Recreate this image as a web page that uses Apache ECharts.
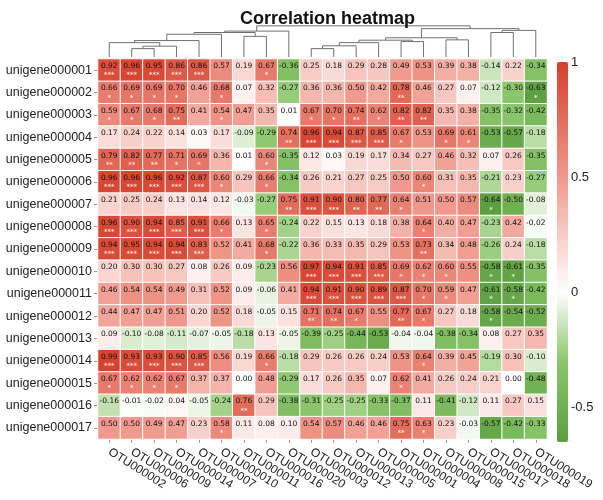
<!DOCTYPE html>
<html>
<head>
<meta charset="utf-8">
<title>Correlation heatmap</title>
<script src="https://cdn.jsdelivr.net/npm/echarts@6.0.0/dist/echarts.min.js"></script>
<style>
	html,body{margin:0;padding:0;background:#fff;}
	#main{width:603px;height:500px;}
</style>
</head>
<body>
<div id="main"></div>
<script>
	// column order follows the dendrogram
	var otus = ['OTU000002','OTU000006','OTU000009','OTU000014','OTU000007','OTU000010','OTU000011',
		'OTU000016','OTU000020','OTU000003','OTU000012','OTU000013','OTU000005','OTU000001',
		'OTU000004','OTU000008','OTU000015','OTU000017','OTU000018','OTU000019'];

	var genes = ['unigene000001','unigene000002','unigene000003','unigene000004','unigene000005',
		'unigene000006','unigene000007','unigene000008','unigene000009','unigene000010',
		'unigene000011','unigene000012','unigene000013','unigene000014','unigene000015',
		'unigene000016','unigene000017'];

	// correlation r, one row per gene
	var values = [
		[0.92,0.96,0.95,0.86,0.86,0.57,0.19,0.67,-0.36,0.25,0.18,0.29,0.28,0.49,0.53,0.39,0.38,-0.14,0.22,-0.34],
		[0.66,0.69,0.69,0.70,0.46,0.68,0.07,0.32,-0.27,0.36,0.36,0.50,0.42,0.78,0.46,0.27,0.07,-0.12,-0.30,-0.63],
		[0.59,0.67,0.68,0.75,0.41,0.54,0.47,0.35,0.01,0.67,0.70,0.74,0.62,0.82,0.82,0.35,0.38,-0.35,-0.32,-0.42],
		[0.17,0.24,0.22,0.14,0.03,0.17,-0.09,-0.29,0.74,0.96,0.94,0.87,0.85,0.67,0.53,0.69,0.61,-0.53,-0.57,-0.18],
		[0.79,0.82,0.77,0.71,0.69,0.36,0.01,0.60,-0.35,0.12,0.03,0.19,0.17,0.34,0.27,0.46,0.32,0.07,0.26,-0.35],
		[0.96,0.96,0.96,0.92,0.87,0.60,0.29,0.66,-0.34,0.26,0.21,0.27,0.25,0.50,0.60,0.31,0.35,-0.21,0.23,-0.27],
		[0.21,0.25,0.24,0.13,0.14,0.12,-0.03,-0.27,0.75,0.91,0.90,0.80,0.77,0.64,0.51,0.50,0.57,-0.64,-0.50,-0.08],
		[0.96,0.90,0.94,0.85,0.91,0.66,0.13,0.65,-0.24,0.22,0.15,0.13,0.18,0.38,0.64,0.40,0.47,-0.23,0.42,-0.02],
		[0.94,0.95,0.94,0.94,0.83,0.52,0.41,0.68,-0.22,0.36,0.33,0.35,0.29,0.53,0.73,0.34,0.48,-0.26,0.24,-0.18],
		[0.20,0.30,0.30,0.27,0.08,0.26,0.09,-0.23,0.56,0.97,0.94,0.91,0.85,0.69,0.62,0.60,0.55,-0.58,-0.61,-0.35],
		[0.46,0.54,0.54,0.49,0.31,0.52,0.09,-0.06,0.41,0.94,0.91,0.90,0.89,0.87,0.70,0.59,0.47,-0.61,-0.58,-0.42],
		[0.44,0.47,0.47,0.51,0.20,0.52,0.18,-0.05,0.15,0.71,0.74,0.67,0.55,0.77,0.67,0.27,0.18,-0.58,-0.54,-0.52],
		[0.09,-0.10,-0.08,-0.11,-0.07,-0.05,-0.18,0.13,-0.05,-0.39,-0.25,-0.44,-0.53,-0.04,-0.04,-0.38,-0.34,0.08,0.27,0.35],
		[0.99,0.93,0.93,0.90,0.85,0.56,0.19,0.66,-0.18,0.29,0.26,0.26,0.24,0.53,0.64,0.39,0.45,-0.19,0.30,-0.10],
		[0.67,0.62,0.62,0.67,0.37,0.37,0.00,0.48,-0.29,0.17,0.26,0.35,0.07,0.62,0.41,0.26,0.24,0.21,0.00,-0.48],
		[-0.16,-0.01,-0.02,0.04,-0.05,-0.24,0.76,0.29,-0.38,-0.31,-0.25,-0.25,-0.33,-0.37,0.11,-0.41,-0.12,0.11,0.27,0.15],
		[0.50,0.50,0.49,0.47,0.23,0.58,0.11,0.08,0.10,0.54,0.57,0.46,0.46,0.75,0.63,0.23,-0.03,-0.57,-0.42,-0.33]
	];

	// number of significance stars per cell
	var stars = [
		[3,3,3,3,3,0,0,1,0,0,0,0,0,0,0,0,0,0,0,0],
		[1,1,1,1,0,1,0,0,0,0,0,0,0,2,0,0,0,0,0,1],
		[1,1,1,2,0,1,0,0,0,1,1,2,1,2,2,0,0,0,0,0],
		[0,0,0,0,0,0,0,0,2,3,3,3,3,1,0,1,1,0,0,0],
		[2,2,2,1,1,0,0,1,0,0,0,0,0,0,0,0,0,0,0,0],
		[3,3,3,3,3,1,0,1,0,0,0,0,0,0,1,0,0,0,0,0],
		[0,0,0,0,0,0,0,0,2,3,3,2,2,1,0,0,0,1,0,0],
		[3,3,3,3,3,1,0,1,0,0,0,0,0,0,1,0,0,0,0,0],
		[3,3,3,3,3,0,0,1,0,0,0,0,0,0,2,0,0,0,0,0],
		[0,0,0,0,0,0,0,0,0,3,3,3,3,1,1,1,0,1,1,0],
		[0,0,0,0,0,0,0,0,0,3,3,3,3,3,1,1,0,1,1,0],
		[0,0,0,0,0,0,0,0,0,2,2,1,0,2,1,0,0,1,0,0],
		[0,0,0,0,0,0,0,0,0,0,0,0,0,0,0,0,0,0,0,0],
		[3,3,3,3,3,0,0,1,0,0,0,0,0,0,1,0,0,0,0,0],
		[1,1,1,1,0,0,0,0,0,0,0,0,0,1,0,0,0,0,0,0],
		[0,0,0,0,0,0,2,0,0,0,0,0,0,0,0,0,0,0,0,0],
		[0,0,0,0,0,1,0,0,0,0,0,0,0,2,1,0,0,0,0,0]
	];

	// column clustering: [left, right, height], number = leaf column, 'mN' = earlier merge
	var merges = [
		[1,2,0.24],['m0',3,0.31],[0,'m1',0.41],['m2',4,0.47],['m3',5,0.65],
		[6,7,0.59],['m4','m5',0.70],['m6',8,0.74],
		[9,10,0.24],['m8',11,0.32],['m9',12,0.41],[13,14,0.44],['m10','m11',0.48],
		[15,16,0.49],['m12','m13',0.55],
		[17,18,0.70],['m15',19,0.76],['m14','m16',0.81],['m7','m17',0.89]
	];

	var colorTicks = [1, 0.5, 0, -0.5];
	var colorMin = -0.65;
	var colorMax = 1;

	// colour ramp green - white - red
	var colorAnchors = [[-0.65,'#5b9e3f'],[-0.3,'#8cc66c'],[0,'#ffffff'],[0.5,'#f0998c'],[1,'#d6402c']];

	function hexToRgb(h){
		return [parseInt(h.substr(1,2),16),parseInt(h.substr(3,2),16),parseInt(h.substr(5,2),16)];
	}

	function colorAt(v){
		for(var i = 0;i < colorAnchors.length-1;i++){
			var a = colorAnchors[i], b = colorAnchors[i+1];
			if(v <= b[0] || i == colorAnchors.length-2){
				var t = Math.max(0,Math.min(1,(v-a[0])/(b[0]-a[0])));
				var ca = hexToRgb(a[1]), cb = hexToRgb(b[1]);
				return 'rgb('+Math.round(ca[0]+(cb[0]-ca[0])*t)+','+Math.round(ca[1]+(cb[1]-ca[1])*t)+','+Math.round(ca[2]+(cb[2]-ca[2])*t)+')';
			}
		}
	}

	var rampColors = [];
	for(var i = 0;i <= 33;i++){
		rampColors.push(colorAt(colorMin + (colorMax-colorMin)*i/33));
	}

	var gradStops = [];
	for(var i = colorAnchors.length-1;i >= 0;i--){
		gradStops.push({offset:(colorMax-colorAnchors[i][0])/(colorMax-colorMin), color:colorAnchors[i][1]});
	}

	var heatData = [];
	for(var r = 0;r < genes.length;r++){
		for(var c = 0;c < otus.length;c++){
			heatData.push([c, r, values[r][c]]);
		}
	}

	// dendrogram segments from the merge list
	function buildTree(list){
		var nodes = {};
		var segs = [];
		function get(ref){
			if(typeof ref === 'number'){
				return {x:ref, h:0};
			}
			return nodes[ref];
		}
		for(var i = 0;i < list.length;i++){
			var a = get(list[i][0]), b = get(list[i][1]), h = list[i][2];
			segs.push({coords:[[a.x,a.h],[a.x,h],[b.x,h],[b.x,b.h]]});
			nodes['m'+i] = {x:(a.x+b.x)/2, h:h};
		}
		return segs;
	}

	var chart = echarts.init(document.getElementById('main'));
	var option = {
		animation:false,
		textStyle:{fontFamily:'Liberation Sans'},
		title:{
			text:'Correlation heatmap',
			left:235,
			top:5,
			textStyle:{fontSize:18,fontWeight:'bold',color:'#111',fontFamily:'Liberation Sans'}
		},
		grid:[
			{left:98, top:59, width:449, height:380},
			{left:98, top:22, width:449, height:35},
			{left:557, top:62, width:11, height:380}
		],
		xAxis:[
			{
				gridIndex:0, type:'category', data:otus,
				axisLine:{show:false},
				axisTick:{show:true, alignWithLabel:true, length:4, lineStyle:{color:'#999'}},
				axisLabel:{rotate:-32, fontSize:12, color:'#222', margin:12, interval:0},
				splitLine:{show:false}
			},
			{gridIndex:1, type:'value', min:-0.5, max:19.5, show:false},
			{gridIndex:2, type:'value', min:0, max:1, show:false}
		],
		yAxis:[
			{
				gridIndex:0, type:'category', data:genes, inverse:true,
				axisLine:{show:false},
				axisTick:{show:true, alignWithLabel:true, length:4, lineStyle:{color:'#999'}},
				axisLabel:{fontSize:12.5, color:'#222', margin:6, interval:0},
				splitLine:{show:false}
			},
			{gridIndex:1, type:'value', min:0, max:1, show:false},
			{
				gridIndex:2, type:'value', min:colorMin, max:colorMax, position:'right',
				axisLine:{show:false}, axisTick:{show:false}, splitLine:{show:false},
				axisLabel:{
					customValues:colorTicks, fontSize:13, color:'#222', margin:3,
					formatter:function(v){ return String(v); }
				}
			}
		],
		visualMap:{
			type:'continuous', min:colorMin, max:colorMax, show:false, seriesIndex:0,
			inRange:{color:rampColors}
		},
		series:[
			{
				type:'heatmap', xAxisIndex:0, yAxisIndex:0, data:heatData,
				itemStyle:{borderColor:'#fff', borderWidth:1},
				label:{
					show:true,
					formatter:function(p){
						var s = stars[p.data[1]][p.data[0]];
						return '{v|'+p.data[2].toFixed(2)+'}\n{s|'+(s ? '***'.slice(0,s) : ' ')+'}';
					},
					rich:{
						v:{fontSize:7.5, color:'#111', fontFamily:'DejaVu Sans', lineHeight:11},
						s:{fontSize:7, color:'#fff', fontFamily:'DejaVu Sans', lineHeight:8}
					}
				},
				emphasis:{disabled:true}
			},
			{
				type:'lines', coordinateSystem:'cartesian2d', xAxisIndex:1, yAxisIndex:1,
				polyline:true, silent:true, data:buildTree(merges),
				lineStyle:{color:'#707070', width:1, opacity:1}
			},
			{
				type:'custom', xAxisIndex:2, yAxisIndex:2, silent:true, data:[[0,0]],
				renderItem:function(params, api){
					var p1 = api.coord([0, colorMax]);
					var p2 = api.coord([1, colorMin]);
					return {
						type:'rect',
						shape:{x:p1[0], y:p1[1], width:p2[0]-p1[0], height:p2[1]-p1[1], r:2},
						style:{fill:new echarts.graphic.LinearGradient(0,0,0,1,gradStops)}
					};
				}
			}
		]
	};
	chart.setOption(option);
</script>
</body>
</html>
